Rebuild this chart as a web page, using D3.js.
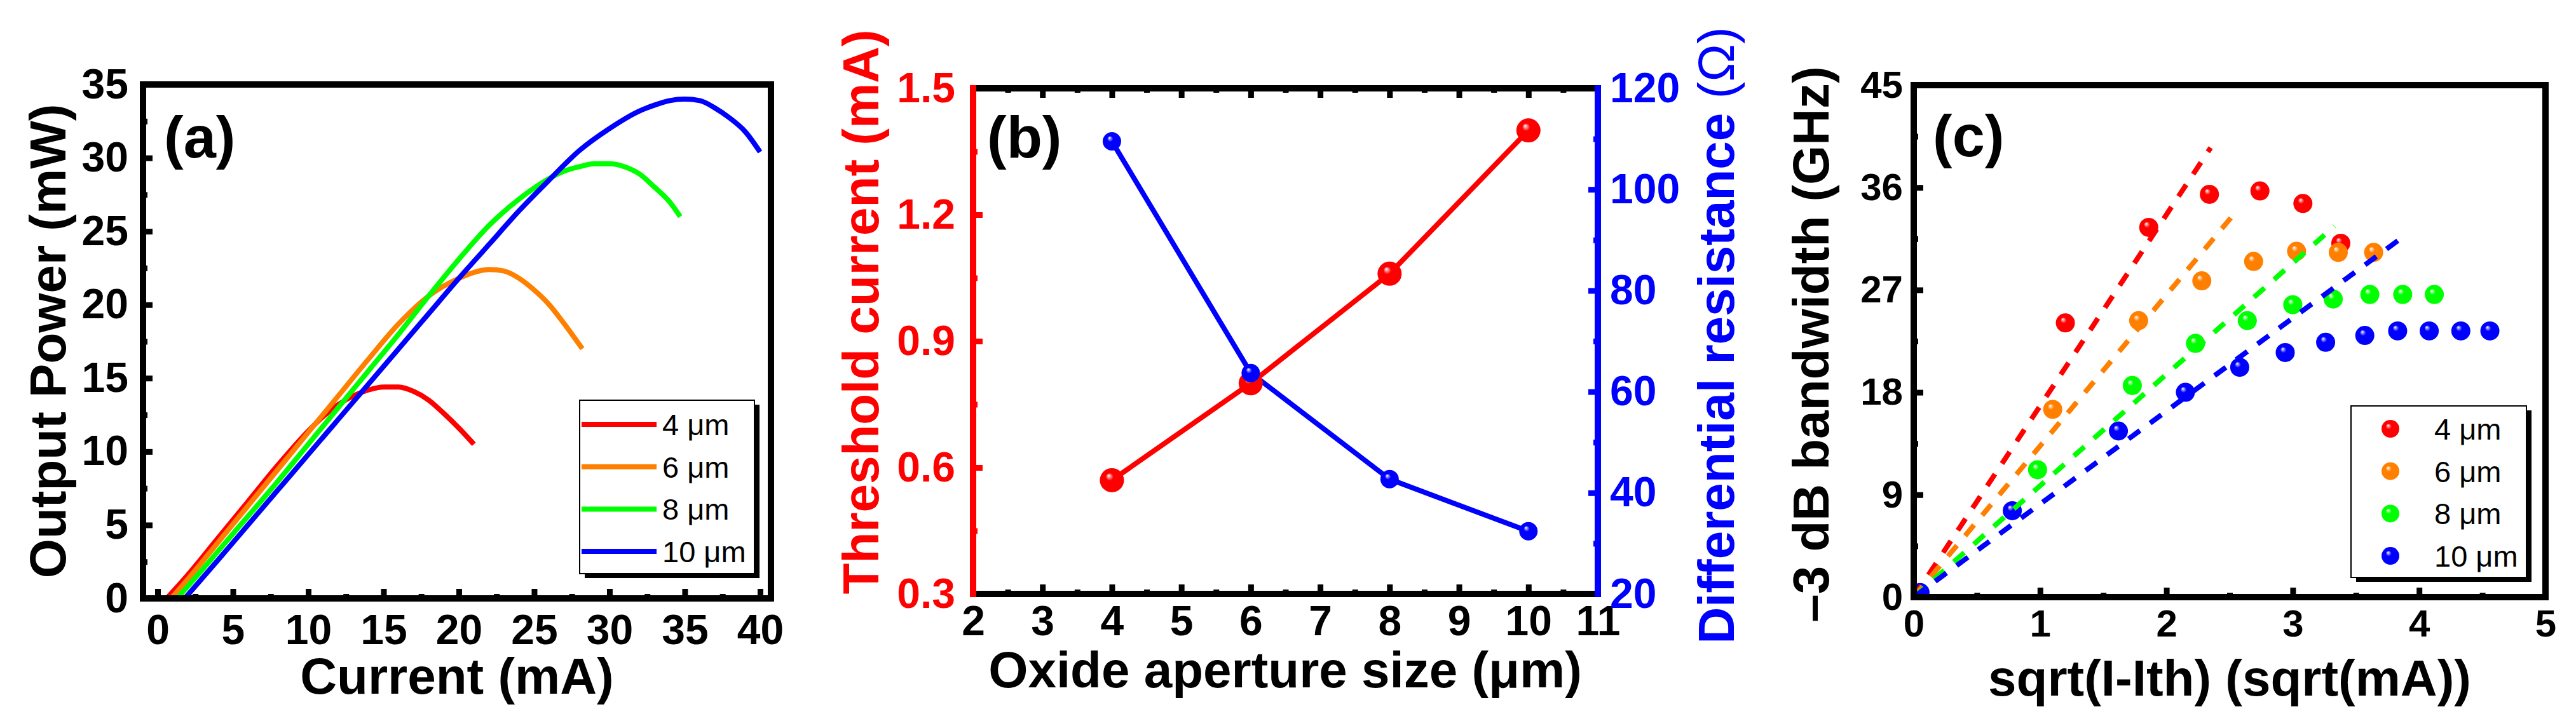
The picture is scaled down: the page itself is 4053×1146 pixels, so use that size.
<!DOCTYPE html>
<html>
<head>
<meta charset="utf-8">
<script src="https://cdn.jsdelivr.net/npm/d3@7"></script>
<style>
  body { margin: 0; background: #fff; }
  svg { font-family: "Liberation Sans", Arial, sans-serif; }
</style>
</head>
<body>
<svg id="chart"></svg>
<script>
// ---------- data ----------
const sizes = ['4 μm', '6 μm', '8 μm', '10 μm'];
const colors = ['#ff0000', '#ff8000', '#00ff00', '#0000ff'];

// (a) output power vs current
const current4 = [0.6, 2, 4, 6, 8, 10, 11, 12, 13, 14, 15, 16, 17, 18, 19, 20, 21];
const power4 = [0, 1.6, 4.1, 6.6, 9.1, 11.4, 12.4, 13.2, 13.8, 14.2, 14.4, 14.4, 14.1, 13.5, 12.6, 11.6, 10.5];
const current6 = [0.9, 2, 4, 6, 8, 10, 12, 14, 16, 18, 20, 21, 22, 23, 24, 25, 26, 27, 28.2];
const power6 = [0, 1.3, 3.8, 6.3, 8.8, 11.3, 13.8, 16.3, 18.7, 20.6, 21.8, 22.2, 22.4, 22.3, 21.8, 21.0, 20.0, 18.7, 17.0];
const current8 = [1.3, 3, 5, 8, 10, 12, 14, 16, 18, 20, 22, 24, 26, 27, 28, 29, 30, 31, 32, 33, 34, 34.7];
const power8 = [0, 2.0, 4.4, 8.0, 10.5, 13.0, 15.5, 18.0, 20.6, 23.1, 25.4, 27.2, 28.6, 29.1, 29.4, 29.6, 29.6, 29.4, 28.9, 28.0, 27.0, 26.0];
const current10 = [1.8, 4, 6, 8, 10, 12, 14, 16, 18, 20, 22, 24, 26, 28, 30, 32, 33, 34, 35, 36, 37, 38, 39, 40];
const power10 = [0, 2.6, 5.0, 7.4, 9.8, 12.2, 14.6, 17.0, 19.4, 21.8, 24.1, 26.4, 28.5, 30.5, 32.0, 33.2, 33.6, 33.9, 34.0, 33.9, 33.4, 32.7, 31.8, 30.4];

// (b) threshold current and differential resistance vs aperture
const aperture = [4, 6, 8, 10];
const thresholdCurrent = [0.57, 0.80, 1.06, 1.40];
const diffResistance = [109.5, 63.7, 42.7, 32.4];

// (c) bandwidth vs sqrt(I-Ith)
const sqrt4 = [0.03, 1.20, 1.86, 2.34, 2.74, 3.08, 3.38];
const bw4 = [0.3, 24.1, 32.5, 35.4, 35.7, 34.6, 31.1];
const sqrt6 = [0.03, 1.10, 1.78, 2.28, 2.69, 3.03, 3.36, 3.64];
const bw6 = [0.3, 16.5, 24.3, 27.8, 29.5, 30.4, 30.3, 30.3];
const sqrt8 = [0.03, 0.98, 1.73, 2.23, 2.64, 3.00, 3.32, 3.61, 3.87, 4.12];
const bw8 = [0.3, 11.2, 18.6, 22.3, 24.3, 25.7, 26.2, 26.6, 26.6, 26.6];
const sqrt10 = [0.05, 0.78, 1.62, 2.15, 2.58, 2.94, 3.26, 3.57, 3.83, 4.08, 4.33, 4.56];
const bw10 = [0.4, 7.6, 14.6, 18.0, 20.2, 21.5, 22.4, 23.0, 23.4, 23.4, 23.4, 23.4];
// linear fits (end points)
const fit4X = [0, 2.35], fit4Y = [0, 39.5];
const fit6X = [0, 2.56], fit6Y = [0, 34.0];
const fit8X = [0, 3.33], fit8Y = [0, 32.6];
const fit10X = [0, 3.84], fit10Y = [0, 31.4];

// ticks
const ticksAx = [0, 5, 10, 15, 20, 25, 30, 35, 40];
const ticksAy = [0, 5, 10, 15, 20, 25, 30, 35];
const ticksBx = [2, 3, 4, 5, 6, 7, 8, 9, 10, 11];
const ticksBy = [0.3, 0.6, 0.9, 1.2, 1.5];
const ticksBy2 = [20, 40, 60, 80, 100, 120];
const ticksCx = [0, 1, 2, 3, 4, 5];
const ticksCy = [0, 9, 18, 27, 36, 45];

// ---------- drawing ----------
const svg = d3.select('#chart')
    .attr('width', 4053)
    .attr('height', 1146);

const defs = svg.append('defs');
colors.forEach((c, i) => {
  let grad = defs.append('radialGradient').attr('id', 'ball' + i)
      .attr('cx', '50%').attr('cy', '50%').attr('r', '50%')
      .attr('fx', '36%').attr('fy', '30%');
  grad.append('stop').attr('offset', '0%').attr('stop-color', '#fff');
  grad.append('stop').attr('offset', '32%').attr('stop-color', c);
  grad.append('stop').attr('offset', '100%').attr('stop-color', c);
});

const zip = (xs, ys) => xs.map((x, i) => [x, ys[i]]);

function minorOf(major) {
  let m = [];
  for (let i = 0; i < major.length - 1; i++) m.push((major[i] + major[i + 1]) / 2);
  return m;
}

// axis with inward major + minor ticks
function drawAxis(g, scale, side, major, opt) {
  let ax = {bottom: d3.axisBottom, top: d3.axisTop, left: d3.axisLeft, right: d3.axisRight}[side];
  let color = opt.color || '#000';
  let minor = g.append('g').attr('transform', opt.pos)
      .call(ax(scale).tickValues(minorOf(major)).tickSize(-7).tickFormat(''));
  let main = g.append('g').attr('transform', opt.pos)
      .call(ax(scale).tickValues(major).tickSize(-15).tickPadding(opt.pad || 0)
          .tickFormat(opt.labels ? (opt.fmt || (d => d)) : ''));
  [minor, main].forEach(s => {
    s.attr('font-family', null).attr('font-size', null);
    s.select('.domain').remove();
    s.selectAll('line').attr('stroke', color).attr('stroke-width', 9);
  });
  main.selectAll('text')
      .attr('fill', color)
      .attr('font-size', opt.fs)
      .attr('font-weight', 'bold');
}

function drawFrame(g, b, sides) {
  [['top', b.left, b.top, b.right, b.top],
   ['bottom', b.left, b.bottom, b.right, b.bottom],
   ['left', b.left, b.top, b.left, b.bottom],
   ['right', b.right, b.top, b.right, b.bottom]].forEach(s => {
    g.append('line')
        .attr('x1', s[1]).attr('y1', s[2]).attr('x2', s[3]).attr('y2', s[4])
        .attr('stroke', sides[s[0]] || '#000')
        .attr('stroke-width', 10)
        .attr('stroke-linecap', 'square');
  });
}

function title(g, text, x, y, rotate, color) {
  let t = g.append('text')
      .attr('text-anchor', 'middle')
      .attr('font-size', 80)
      .attr('font-weight', 'bold')
      .attr('fill', color || '#000');
  if (rotate) {
    t.attr('transform', `translate(${x},${y}) rotate(-90)`).attr('dy', '0.35em');
  } else {
    t.attr('x', x).attr('y', y);
  }
  return t.text(text);
}

function panelLabel(g, text, x, y) {
  g.append('text').attr('x', x).attr('y', y)
      .attr('font-size', 92).attr('font-weight', 'bold')
      .text(text);
}

function legendBox(g, box) {
  g.append('rect')
      .attr('x', box.x + 8).attr('y', box.y + 7)
      .attr('width', box.w).attr('height', box.h)
      .attr('fill', '#000');
  g.append('rect')
      .attr('x', box.x).attr('y', box.y)
      .attr('width', box.w).attr('height', box.h)
      .attr('fill', '#fff').attr('stroke', '#000').attr('stroke-width', 2);
}

// ----- panel (a) -----
const boxA = {left: 225, right: 1213, top: 133, bottom: 942};
const gA = svg.append('g');
const xA = d3.scaleLinear().domain([-0.97, 40.72]).range([boxA.left, boxA.right]);
const yA = d3.scaleLinear().domain([0, 35]).range([boxA.bottom, boxA.top]);

const seriesA = [zip(current4, power4), zip(current6, power6), zip(current8, power8), zip(current10, power10)];
const lineA = d3.line().x(d => xA(d[0])).y(d => yA(d[1])).curve(d3.curveMonotoneX);
gA.selectAll('.li')
    .data(seriesA)
    .join('path')
    .attr('class', 'li')
    .attr('d', lineA)
    .attr('fill', 'none')
    .attr('stroke', (d, i) => colors[i])
    .attr('stroke-width', 8);

drawAxis(gA, xA, 'bottom', ticksAx, {pos: `translate(0,${boxA.bottom})`, labels: true, pad: 25, fs: 66});
drawAxis(gA, yA, 'left', ticksAy, {pos: `translate(${boxA.left},0)`, labels: true, pad: 23, fs: 66});
drawFrame(gA, boxA, {});

legendBox(gA, {x: 912, y: 630, w: 275, h: 273});
sizes.forEach((s, i) => {
  let y = 668 + i * 66.7;
  gA.append('line').attr('x1', 915).attr('x2', 1033).attr('y1', y).attr('y2', y)
      .attr('stroke', colors[i]).attr('stroke-width', 8);
  gA.append('text').attr('x', 1042).attr('y', y).attr('dy', '0.36em')
      .attr('font-size', 47).text(s);
});

panelLabel(gA, '(a)', 258, 248);
title(gA, 'Current (mA)', 719, 1092);
title(gA, 'Output Power (mW)', 75, 537, true);

// ----- panel (b) -----
const boxB = {left: 1531, right: 2514, top: 139, bottom: 935};
const gB = svg.append('g');
const xB = d3.scaleLinear().domain([2, 11]).range([boxB.left, boxB.right]);
const yB = d3.scaleLinear().domain([0.3, 1.5]).range([boxB.bottom, boxB.top]);
const yB2 = d3.scaleLinear().domain([20, 120]).range([boxB.bottom, boxB.top]);

drawAxis(gB, xB, 'bottom', ticksBx, {pos: `translate(0,${boxB.bottom})`, labels: true, pad: 18, fs: 66});
drawAxis(gB, xB, 'top', ticksBx, {pos: `translate(0,${boxB.top})`});
drawAxis(gB, yB, 'left', ticksBy, {pos: `translate(${boxB.left},0)`, labels: true, pad: 28, fs: 66,
  color: colors[0], fmt: d3.format('.1f')});
drawAxis(gB, yB2, 'right', ticksBy2, {pos: `translate(${boxB.right},0)`, labels: true, pad: 19, fs: 66,
  color: colors[3]});
drawFrame(gB, boxB, {left: colors[0], right: colors[3]});

const lineB = d3.line().x(d => xB(d[0])).y(d => d[1]);
const seriesB = [
  {pts: aperture.map((a, i) => [a, yB(thresholdCurrent[i])]), color: colors[0], grad: 0, r: 19},
  {pts: aperture.map((a, i) => [a, yB2(diffResistance[i])]), color: colors[3], grad: 3, r: 14.5}
];
seriesB.forEach(s => {
  gB.append('path').attr('d', lineB(s.pts))
      .attr('fill', 'none').attr('stroke', s.color).attr('stroke-width', 8);
});
seriesB.forEach(s => {
  gB.selectAll(null).data(s.pts).join('circle')
      .attr('cx', d => xB(d[0])).attr('cy', d => d[1]).attr('r', s.r)
      .attr('fill', `url(#ball${s.grad})`);
});

panelLabel(gB, '(b)', 1553, 248);
title(gB, 'Oxide aperture size (μm)', 2022, 1082);
title(gB, 'Threshold current (mA)', 1354, 491, true, colors[0]);
const tR = title(gB, '', 2700, 528, true, colors[3]);
tR.append('tspan').text('Differential resistance ');
tR.append('tspan').attr('font-weight', 'normal').text('(Ω)');

// ----- panel (c) -----
const boxC = {left: 3011, right: 4005, top: 134, bottom: 940};
const gC = svg.append('g');
const xC = d3.scaleLinear().domain([0, 5]).range([boxC.left, boxC.right]);
const yC = d3.scaleLinear().domain([0, 45]).range([boxC.bottom, boxC.top]);

const pointsC = [zip(sqrt4, bw4), zip(sqrt6, bw6), zip(sqrt8, bw8), zip(sqrt10, bw10)];
const fitsC = [zip(fit4X, fit4Y), zip(fit6X, fit6Y), zip(fit8X, fit8Y), zip(fit10X, fit10Y)];

gC.append('clipPath').attr('id', 'clipC').append('rect')
    .attr('x', boxC.left).attr('y', boxC.top)
    .attr('width', boxC.right - boxC.left).attr('height', boxC.bottom - boxC.top);
const plotC = gC.append('g').attr('clip-path', 'url(#clipC)');

pointsC.forEach((pts, i) => {
  plotC.selectAll(null).data(pts).join('circle')
      .attr('cx', d => xC(d[0])).attr('cy', d => yC(d[1])).attr('r', 15)
      .attr('fill', `url(#ball${i})`);
});
const lineC = d3.line().x(d => xC(d[0])).y(d => yC(d[1]));
plotC.selectAll('.fit')
    .data(fitsC)
    .join('path')
    .attr('class', 'fit')
    .attr('d', lineC)
    .attr('fill', 'none')
    .attr('stroke', (d, i) => colors[i])
    .attr('stroke-width', 8)
    .attr('stroke-dasharray', '22 20');

drawAxis(gC, xC, 'bottom', ticksCx, {pos: `translate(0,${boxC.bottom})`, labels: true, pad: 19, fs: 60});
drawAxis(gC, yC, 'left', ticksCy, {pos: `translate(${boxC.left},0)`, labels: true, pad: 17, fs: 60});
drawFrame(gC, boxC, {});

legendBox(gC, {x: 3699, y: 639, w: 276, h: 270});
sizes.forEach((s, i) => {
  let y = 675 + i * 66.7;
  gC.append('circle').attr('cx', 3761).attr('cy', y).attr('r', 14)
      .attr('fill', `url(#ball${i})`);
  gC.append('text').attr('x', 3830).attr('y', y).attr('dy', '0.36em')
      .attr('font-size', 47).text(s);
});

panelLabel(gC, '(c)', 3041, 246);
title(gC, 'sqrt(I-Ith) (sqrt(mA))', 3508, 1095);
title(gC, '–3 dB bandwidth (GHz)', 2849, 542, true);
</script>
</body>
</html>
